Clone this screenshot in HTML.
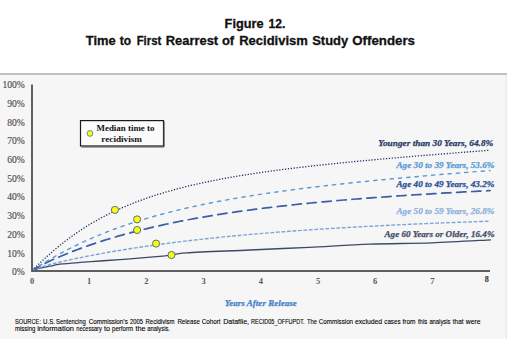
<!DOCTYPE html>
<html><head><meta charset="utf-8">
<style>
html,body{margin:0;padding:0;}
body{width:507px;height:339px;position:relative;overflow:hidden;background:#fff;}
svg{position:absolute;left:0;top:0;}
.ttl{font-family:"Liberation Sans",sans-serif;font-weight:bold;font-size:13.2px;fill:#111;stroke:#111;stroke-width:0.3px;}
.yl{font-family:"Liberation Serif",serif;font-size:9.6px;fill:#4f4f4f;stroke:#4f4f4f;stroke-width:0.15px;}
.xl{font-family:"Liberation Serif",serif;font-size:8.5px;font-weight:bold;fill:#595959;}
.lab{font-family:"Liberation Serif",serif;font-size:8.6px;font-weight:bold;font-style:italic;}
.src{font-family:"Liberation Sans",sans-serif;font-size:6.5px;font-weight:normal;fill:#000;stroke:#000;stroke-width:0.1px;}
.leg{font-family:"Liberation Serif",serif;font-weight:bold;font-size:8.6px;fill:#111;}
</style></head><body>
<svg width="507" height="339" viewBox="0 0 507 339">
<rect x="0" y="73" width="507" height="266" fill="#f6f6f6"/>
<rect x="0" y="73" width="507" height="2" fill="#bdc0bf"/>
<rect x="0" y="75" width="507" height="1" fill="#f9f9f9"/>
<rect x="505.5" y="75" width="1.5" height="264" fill="#ebebeb"/>
<text class="ttl" x="224.6" y="27.8" textLength="39.0" lengthAdjust="spacingAndGlyphs">Figure</text><text class="ttl" x="268.5" y="27.8" textLength="16.8" lengthAdjust="spacingAndGlyphs">12.</text>
<text class="ttl" x="85.8" y="44.8" textLength="29.9" lengthAdjust="spacingAndGlyphs">Time</text><text class="ttl" x="119.8" y="44.8" textLength="11.3" lengthAdjust="spacingAndGlyphs">to</text><text class="ttl" x="136.7" y="44.8" textLength="24.6" lengthAdjust="spacingAndGlyphs">First</text><text class="ttl" x="165.7" y="44.8" textLength="52.5" lengthAdjust="spacingAndGlyphs">Rearrest</text><text class="ttl" x="221.9" y="44.8" textLength="12.2" lengthAdjust="spacingAndGlyphs">of</text><text class="ttl" x="239.2" y="44.8" textLength="68.6" lengthAdjust="spacingAndGlyphs">Recidivism</text><text class="ttl" x="312.2" y="44.8" textLength="36.0" lengthAdjust="spacingAndGlyphs">Study</text><text class="ttl" x="352.3" y="44.8" textLength="62.7" lengthAdjust="spacingAndGlyphs">Offenders</text>
<g text-anchor="end">
<text class="yl" x="24.8" y="88.0">100%</text>
<text class="yl" x="24.8" y="106.7">90%</text>
<text class="yl" x="24.8" y="125.5">80%</text>
<text class="yl" x="24.8" y="144.2">70%</text>
<text class="yl" x="24.8" y="162.9">60%</text>
<text class="yl" x="24.8" y="181.7">50%</text>
<text class="yl" x="24.8" y="200.4">40%</text>
<text class="yl" x="24.8" y="219.1">30%</text>
<text class="yl" x="24.8" y="237.8">20%</text>
<text class="yl" x="24.8" y="256.6">10%</text>
<text class="yl" x="24.8" y="275.3">0%</text>
</g>
<g text-anchor="middle">
<text class="xl" x="32" y="283.5">0</text>
<text class="xl" x="89.2" y="283.5">1</text>
<text class="xl" x="146.4" y="283.5">2</text>
<text class="xl" x="203.6" y="283.5">3</text>
<text class="xl" x="260.8" y="283.5">4</text>
<text class="xl" x="318" y="283.5">5</text>
<text class="xl" x="375.2" y="283.5">6</text>
<text class="xl" x="432.4" y="283.5">7</text>
<text class="xl" x="486.8" y="282.4" style="fill:#2a2a2a;font-size:8.2px">8</text>
</g>
<line x1="32" y1="84.5" x2="32" y2="272" stroke="#5f5f5f" stroke-width="2"/>
<line x1="31" y1="271" x2="490" y2="271" stroke="#5f5f5f" stroke-width="2"/>
<path d="M32.00,270.50 C33.33,270.12 37.00,268.92 40.00,268.20 C43.00,267.48 46.67,266.87 50.00,266.20 C53.33,265.53 55.00,264.83 60.00,264.20 C65.00,263.57 73.33,262.93 80.00,262.40 C86.67,261.87 93.33,261.47 100.00,261.00 C106.67,260.53 115.00,259.97 120.00,259.60 C125.00,259.23 122.42,259.43 130.00,258.80 C137.58,258.17 158.60,256.42 165.50,255.80 C172.40,255.18 167.85,255.60 171.40,255.10 C174.95,254.60 173.70,253.65 186.80,252.80 C199.90,251.95 229.63,250.92 250.00,250.00 C270.37,249.08 289.00,248.27 309.00,247.30 C329.00,246.33 349.57,244.95 370.00,244.20 C390.43,243.45 411.43,243.53 431.60,242.80 C451.77,242.07 481.10,240.30 491.00,239.80" fill="none" stroke="#3c4a66" stroke-width="1.3"/>
<path d="M32.00,270.50 L35.00,269.27 L38.00,268.16 L41.00,267.16 L44.00,266.23 L47.00,265.37 L50.00,264.55 L53.00,263.77 L56.00,263.02 L59.00,262.29 L62.00,261.59 L65.00,260.90 L68.00,260.23 L71.00,259.58 L74.00,258.93 L77.00,258.30 L80.00,257.69 L83.00,257.08 L86.00,256.48 L89.00,255.89 L92.00,255.32 L95.00,254.75 L98.00,254.19 L101.00,253.63 L104.00,253.09 L107.00,252.56 L110.00,252.03 L113.00,251.51 L116.00,251.00 L119.00,250.50 L122.00,250.00 L125.00,249.52 L128.00,249.04 L131.00,248.56 L134.00,248.10 L137.00,247.64 L140.00,247.19 L143.00,246.74 L146.00,246.30 L149.00,245.87 L152.00,245.44 L155.00,245.02 L158.00,244.61 L161.00,244.20 L164.00,243.80 L167.00,243.41 L170.00,243.02 L173.00,242.63 L176.00,242.26 L179.00,241.88 L182.00,241.52 L185.00,241.15 L188.00,240.80 L191.00,240.44 L194.00,240.10 L197.00,239.76 L200.00,239.42 L203.00,239.09 L206.00,238.76 L209.00,238.44 L212.00,238.12 L215.00,237.81 L218.00,237.50 L221.00,237.19 L224.00,236.89 L227.00,236.60 L230.00,236.30 L233.00,236.02 L236.00,235.73 L239.00,235.45 L242.00,235.18 L245.00,234.90 L248.00,234.64 L251.00,234.37 L254.00,234.11 L257.00,233.85 L260.00,233.60 L263.00,233.35 L266.00,233.10 L269.00,232.86 L272.00,232.62 L275.00,232.38 L278.00,232.14 L281.00,231.91 L284.00,231.69 L287.00,231.46 L290.00,231.24 L293.00,231.02 L296.00,230.80 L299.00,230.59 L302.00,230.38 L305.00,230.17 L308.00,229.97 L311.00,229.76 L314.00,229.56 L317.00,229.37 L320.00,229.17 L323.00,228.98 L326.00,228.79 L329.00,228.60 L332.00,228.42 L335.00,228.23 L338.00,228.05 L341.00,227.87 L344.00,227.70 L347.00,227.52 L350.00,227.35 L353.00,227.18 L356.00,227.01 L359.00,226.85 L362.00,226.68 L365.00,226.52 L368.00,226.36 L371.00,226.20 L374.00,226.05 L377.00,225.89 L380.00,225.74 L383.00,225.59 L386.00,225.44 L389.00,225.29 L392.00,225.15 L395.00,225.00 L398.00,224.86 L401.00,224.72 L404.00,224.58 L407.00,224.44 L410.00,224.31 L413.00,224.17 L416.00,224.04 L419.00,223.91 L422.00,223.78 L425.00,223.65 L428.00,223.52 L431.00,223.40 L434.00,223.27 L437.00,223.15 L440.00,223.03 L443.00,222.90 L446.00,222.78 L449.00,222.67 L452.00,222.55 L455.00,222.43 L458.00,222.32 L461.00,222.20 L464.00,222.09 L467.00,221.98 L470.00,221.87 L473.00,221.76 L476.00,221.65 L479.00,221.54 L482.00,221.44 L485.00,221.33 L488.00,221.23 L490.00,221.16" fill="none" stroke="#7fa3d9" stroke-width="1.4" stroke-dasharray="3.8 1.7"/>
<path d="M32.00,270.50 L35.00,268.69 L38.00,266.99 L41.00,265.39 L44.00,263.85 L47.00,262.38 L50.00,260.96 L53.00,259.58 L56.00,258.24 L59.00,256.94 L62.00,255.67 L65.00,254.43 L68.00,253.21 L71.00,252.03 L74.00,250.86 L77.00,249.72 L80.00,248.61 L83.00,247.51 L86.00,246.44 L89.00,245.39 L92.00,244.36 L95.00,243.35 L98.00,242.36 L101.00,241.39 L104.00,240.43 L107.00,239.49 L110.00,238.58 L113.00,237.67 L116.00,236.79 L119.00,235.92 L122.00,235.07 L125.00,234.23 L128.00,233.41 L131.00,232.61 L134.00,231.82 L137.00,231.04 L140.00,230.28 L143.00,229.53 L146.00,228.80 L149.00,228.08 L152.00,227.37 L155.00,226.67 L158.00,225.99 L161.00,225.32 L164.00,224.66 L167.00,224.02 L170.00,223.38 L173.00,222.76 L176.00,222.14 L179.00,221.54 L182.00,220.95 L185.00,220.37 L188.00,219.80 L191.00,219.24 L194.00,218.69 L197.00,218.15 L200.00,217.61 L203.00,217.09 L206.00,216.58 L209.00,216.07 L212.00,215.58 L215.00,215.09 L218.00,214.61 L221.00,214.14 L224.00,213.67 L227.00,213.21 L230.00,212.77 L233.00,212.32 L236.00,211.89 L239.00,211.46 L242.00,211.04 L245.00,210.63 L248.00,210.22 L251.00,209.82 L254.00,209.43 L257.00,209.04 L260.00,208.66 L263.00,208.28 L266.00,207.91 L269.00,207.55 L272.00,207.19 L275.00,206.84 L278.00,206.49 L281.00,206.15 L284.00,205.81 L287.00,205.48 L290.00,205.15 L293.00,204.83 L296.00,204.51 L299.00,204.20 L302.00,203.89 L305.00,203.59 L308.00,203.29 L311.00,202.99 L314.00,202.70 L317.00,202.42 L320.00,202.13 L323.00,201.86 L326.00,201.58 L329.00,201.31 L332.00,201.04 L335.00,200.78 L338.00,200.52 L341.00,200.26 L344.00,200.01 L347.00,199.76 L350.00,199.51 L353.00,199.27 L356.00,199.02 L359.00,198.79 L362.00,198.55 L365.00,198.32 L368.00,198.09 L371.00,197.87 L374.00,197.64 L377.00,197.42 L380.00,197.20 L383.00,196.99 L386.00,196.78 L389.00,196.56 L392.00,196.36 L395.00,196.15 L398.00,195.95 L401.00,195.75 L404.00,195.55 L407.00,195.35 L410.00,195.16 L413.00,194.96 L416.00,194.77 L419.00,194.58 L422.00,194.40 L425.00,194.21 L428.00,194.03 L431.00,193.85 L434.00,193.67 L437.00,193.49 L440.00,193.32 L443.00,193.14 L446.00,192.97 L449.00,192.80 L452.00,192.63 L455.00,192.47 L458.00,192.30 L461.00,192.13 L464.00,191.97 L467.00,191.81 L470.00,191.65 L473.00,191.49 L476.00,191.33 L479.00,191.18 L482.00,191.02 L485.00,190.87 L488.00,190.72 L490.00,190.62" fill="none" stroke="#3a5fa6" stroke-width="1.7" stroke-dasharray="9.3 5.7" stroke-linecap="round"/>
<path d="M32.00,270.50 L35.00,268.59 L38.00,266.70 L41.00,264.83 L44.00,262.99 L47.00,261.18 L50.00,259.40 L53.00,257.66 L56.00,255.95 L59.00,254.28 L62.00,252.64 L65.00,251.04 L68.00,249.48 L71.00,247.94 L74.00,246.44 L77.00,244.98 L80.00,243.54 L83.00,242.14 L86.00,240.76 L89.00,239.42 L92.00,238.11 L95.00,236.82 L98.00,235.56 L101.00,234.33 L104.00,233.13 L107.00,231.95 L110.00,230.79 L113.00,229.66 L116.00,228.55 L119.00,227.47 L122.00,226.41 L125.00,225.37 L128.00,224.35 L131.00,223.36 L134.00,222.38 L137.00,221.42 L140.00,220.49 L143.00,219.57 L146.00,218.67 L149.00,217.79 L152.00,216.92 L155.00,216.07 L158.00,215.24 L161.00,214.43 L164.00,213.63 L167.00,212.84 L170.00,212.08 L173.00,211.32 L176.00,210.58 L179.00,209.85 L182.00,209.14 L185.00,208.44 L188.00,207.75 L191.00,207.08 L194.00,206.42 L197.00,205.77 L200.00,205.13 L203.00,204.50 L206.00,203.88 L209.00,203.28 L212.00,202.68 L215.00,202.10 L218.00,201.52 L221.00,200.95 L224.00,200.40 L227.00,199.85 L230.00,199.31 L233.00,198.78 L236.00,198.26 L239.00,197.75 L242.00,197.24 L245.00,196.74 L248.00,196.25 L251.00,195.77 L254.00,195.30 L257.00,194.83 L260.00,194.37 L263.00,193.91 L266.00,193.47 L269.00,193.02 L272.00,192.59 L275.00,192.16 L278.00,191.74 L281.00,191.32 L284.00,190.91 L287.00,190.50 L290.00,190.10 L293.00,189.70 L296.00,189.31 L299.00,188.93 L302.00,188.55 L305.00,188.17 L308.00,187.80 L311.00,187.43 L314.00,187.07 L317.00,186.71 L320.00,186.35 L323.00,186.00 L326.00,185.66 L329.00,185.31 L332.00,184.97 L335.00,184.64 L338.00,184.31 L341.00,183.98 L344.00,183.65 L347.00,183.33 L350.00,183.01 L353.00,182.70 L356.00,182.38 L359.00,182.07 L362.00,181.77 L365.00,181.46 L368.00,181.16 L371.00,180.86 L374.00,180.57 L377.00,180.27 L380.00,179.98 L383.00,179.69 L386.00,179.41 L389.00,179.12 L392.00,178.84 L395.00,178.56 L398.00,178.28 L401.00,178.01 L404.00,177.73 L407.00,177.46 L410.00,177.19 L413.00,176.92 L416.00,176.66 L419.00,176.39 L422.00,176.13 L425.00,175.87 L428.00,175.61 L431.00,175.35 L434.00,175.10 L437.00,174.84 L440.00,174.59 L443.00,174.34 L446.00,174.08 L449.00,173.84 L452.00,173.59 L455.00,173.34 L458.00,173.10 L461.00,172.85 L464.00,172.61 L467.00,172.37 L470.00,172.13 L473.00,171.89 L476.00,171.65 L479.00,171.41 L482.00,171.18 L485.00,170.94 L488.00,170.71 L490.00,170.55" fill="none" stroke="#5b9bd5" stroke-width="1.45" stroke-dasharray="3.2 5.1" stroke-linecap="round"/>
<path d="M32.00,270.50 L35.00,267.66 L38.00,264.82 L41.00,262.00 L44.00,259.21 L47.00,256.47 L50.00,253.79 L53.00,251.17 L56.00,248.62 L59.00,246.13 L62.00,243.71 L65.00,241.36 L68.00,239.08 L71.00,236.87 L74.00,234.72 L77.00,232.63 L80.00,230.61 L83.00,228.65 L86.00,226.74 L89.00,224.90 L92.00,223.10 L95.00,221.36 L98.00,219.68 L101.00,218.04 L104.00,216.45 L107.00,214.90 L110.00,213.41 L113.00,211.95 L116.00,210.54 L119.00,209.17 L122.00,207.83 L125.00,206.54 L128.00,205.28 L131.00,204.06 L134.00,202.87 L137.00,201.72 L140.00,200.59 L143.00,199.50 L146.00,198.44 L149.00,197.40 L152.00,196.40 L155.00,195.42 L158.00,194.46 L161.00,193.54 L164.00,192.63 L167.00,191.75 L170.00,190.89 L173.00,190.06 L176.00,189.24 L179.00,188.45 L182.00,187.67 L185.00,186.92 L188.00,186.18 L191.00,185.46 L194.00,184.76 L197.00,184.07 L200.00,183.40 L203.00,182.75 L206.00,182.11 L209.00,181.48 L212.00,180.87 L215.00,180.27 L218.00,179.69 L221.00,179.12 L224.00,178.56 L227.00,178.01 L230.00,177.47 L233.00,176.95 L236.00,176.43 L239.00,175.93 L242.00,175.43 L245.00,174.95 L248.00,174.47 L251.00,174.00 L254.00,173.54 L257.00,173.09 L260.00,172.65 L263.00,172.22 L266.00,171.79 L269.00,171.37 L272.00,170.96 L275.00,170.55 L278.00,170.15 L281.00,169.76 L284.00,169.37 L287.00,168.99 L290.00,168.61 L293.00,168.24 L296.00,167.88 L299.00,167.52 L302.00,167.17 L305.00,166.82 L308.00,166.47 L311.00,166.13 L314.00,165.79 L317.00,165.46 L320.00,165.13 L323.00,164.81 L326.00,164.49 L329.00,164.17 L332.00,163.86 L335.00,163.55 L338.00,163.24 L341.00,162.94 L344.00,162.64 L347.00,162.34 L350.00,162.04 L353.00,161.75 L356.00,161.46 L359.00,161.17 L362.00,160.89 L365.00,160.61 L368.00,160.33 L371.00,160.05 L374.00,159.78 L377.00,159.50 L380.00,159.23 L383.00,158.96 L386.00,158.70 L389.00,158.43 L392.00,158.17 L395.00,157.90 L398.00,157.64 L401.00,157.39 L404.00,157.13 L407.00,156.87 L410.00,156.62 L413.00,156.37 L416.00,156.11 L419.00,155.86 L422.00,155.61 L425.00,155.37 L428.00,155.12 L431.00,154.87 L434.00,154.63 L437.00,154.39 L440.00,154.14 L443.00,153.90 L446.00,153.66 L449.00,153.42 L452.00,153.18 L455.00,152.95 L458.00,152.71 L461.00,152.47 L464.00,152.24 L467.00,152.00 L470.00,151.77 L473.00,151.54 L476.00,151.30 L479.00,151.07 L482.00,150.84 L485.00,150.61 L488.00,150.38 L489.00,150.30" fill="none" stroke="#1f3360" stroke-width="1.3" stroke-dasharray="1.25 1.65"/>
<circle cx="114.9" cy="209.9" r="3.55" fill="#ffff00" stroke="#4e7090" stroke-width="1.0"/><circle cx="137.1" cy="219.4" r="3.55" fill="#ffff00" stroke="#4e7090" stroke-width="1.0"/><circle cx="137.1" cy="230.0" r="3.55" fill="#ffff00" stroke="#4e7090" stroke-width="1.0"/><circle cx="156.1" cy="243.6" r="3.55" fill="#ffff00" stroke="#4e7090" stroke-width="1.0"/><circle cx="171.5" cy="255.0" r="3.55" fill="#ffff00" stroke="#4e7090" stroke-width="1.0"/>
<g text-anchor="end">
<text class="lab" x="493.3" y="145.8" fill="#2b3a67" stroke="#2b3a67" stroke-width="0.25" textLength="115" lengthAdjust="spacingAndGlyphs">Younger than 30 Years, 64.8%</text>
<text class="lab" x="494.5" y="167.8" fill="#5b9bd5" stroke="#5b9bd5" stroke-width="0.25" textLength="98" lengthAdjust="spacingAndGlyphs">Age 30 to 39 Years, 53.6%</text>
<text class="lab" x="494.5" y="187.3" fill="#2d5096" stroke="#2d5096" stroke-width="0.25" textLength="98" lengthAdjust="spacingAndGlyphs">Age 40 to 49 Years, 43.2%</text>
<text class="lab" x="494.5" y="214.2" fill="#8fb0e0" stroke="#8fb0e0" stroke-width="0.25" textLength="98" lengthAdjust="spacingAndGlyphs">Age 50 to 59 Years, 26.8%</text>
<text class="lab" x="494.5" y="237.3" fill="#44506a" stroke="#44506a" stroke-width="0.25" textLength="110" lengthAdjust="spacingAndGlyphs">Age 60 Years or Older, 16.4%</text>
</g>
<text x="224.8" y="305.8" textLength="72" lengthAdjust="spacingAndGlyphs" style="font-family:'Liberation Serif',serif;font-size:8.9px;font-weight:bold;font-style:italic;fill:#4681c8;stroke:#4681c8;stroke-width:0.25px">Years After Release</text>
<rect x="80.5" y="120.6" width="83" height="25.4" fill="#fbfbfb" stroke="#1a1a1a" stroke-width="1.2"/>
<path d="M164.1,121.5 V147 H81.5" fill="none" stroke="#555" stroke-width="1"/>
<circle cx="90" cy="133.4" r="2.9" fill="#ffff00" stroke="#4f7fb0" stroke-width="0.9"/>
<text class="leg" x="96.5" y="131" textLength="58" lengthAdjust="spacingAndGlyphs">Median time to</text>
<text class="leg" x="101.3" y="141.6" textLength="40.7" lengthAdjust="spacingAndGlyphs">recidivism</text>
<text class="src" x="15.0" y="323.6" textLength="26.0" lengthAdjust="spacingAndGlyphs">SOURCE:</text><text class="src" x="43.1" y="323.6" textLength="11.9" lengthAdjust="spacingAndGlyphs">U.S.</text><text class="src" x="56.0" y="323.6" textLength="29.8" lengthAdjust="spacingAndGlyphs">Sentencing</text><text class="src" x="88.7" y="323.6" textLength="39.1" lengthAdjust="spacingAndGlyphs">Commission&#8217;s</text><text class="src" x="130.1" y="323.6" textLength="13.0" lengthAdjust="spacingAndGlyphs">2005</text><text class="src" x="145.5" y="323.6" textLength="29.0" lengthAdjust="spacingAndGlyphs">Recidivism</text><text class="src" x="177.4" y="323.6" textLength="22.5" lengthAdjust="spacingAndGlyphs">Release</text><text class="src" x="201.7" y="323.6" textLength="18.9" lengthAdjust="spacingAndGlyphs">Cohort</text><text class="src" x="223.3" y="323.6" textLength="25.7" lengthAdjust="spacingAndGlyphs">Datafile,</text><text class="src" x="251.0" y="323.6" textLength="53.6" lengthAdjust="spacingAndGlyphs">RECID05_OFFUPDT.</text><text class="src" x="307.0" y="323.6" textLength="10.0" lengthAdjust="spacingAndGlyphs">The</text><text class="src" x="318.8" y="323.6" textLength="34.3" lengthAdjust="spacingAndGlyphs">Commission</text><text class="src" x="354.9" y="323.6" textLength="27.2" lengthAdjust="spacingAndGlyphs">excluded</text><text class="src" x="384.3" y="323.6" textLength="16.2" lengthAdjust="spacingAndGlyphs">cases</text><text class="src" x="402.5" y="323.6" textLength="13.0" lengthAdjust="spacingAndGlyphs">from</text><text class="src" x="417.9" y="323.6" textLength="9.4" lengthAdjust="spacingAndGlyphs">this</text><text class="src" x="429.4" y="323.6" textLength="21.0" lengthAdjust="spacingAndGlyphs">analysis</text><text class="src" x="452.8" y="323.6" textLength="10.7" lengthAdjust="spacingAndGlyphs">that</text><text class="src" x="465.8" y="323.6" textLength="14.8" lengthAdjust="spacingAndGlyphs">were</text><text class="src" x="15.0" y="330.6" textLength="20.4" lengthAdjust="spacingAndGlyphs">missing</text><text class="src" x="37.2" y="330.6" textLength="36.7" lengthAdjust="spacingAndGlyphs">information</text><text class="src" x="76.3" y="330.6" textLength="25.4" lengthAdjust="spacingAndGlyphs">necessary</text><text class="src" x="104.0" y="330.6" textLength="6.0" lengthAdjust="spacingAndGlyphs">to</text><text class="src" x="112.0" y="330.6" textLength="21.1" lengthAdjust="spacingAndGlyphs">perform</text><text class="src" x="135.4" y="330.6" textLength="10.1" lengthAdjust="spacingAndGlyphs">the</text><text class="src" x="147.3" y="330.6" textLength="22.7" lengthAdjust="spacingAndGlyphs">analysis.</text>
</svg>
</body></html>
